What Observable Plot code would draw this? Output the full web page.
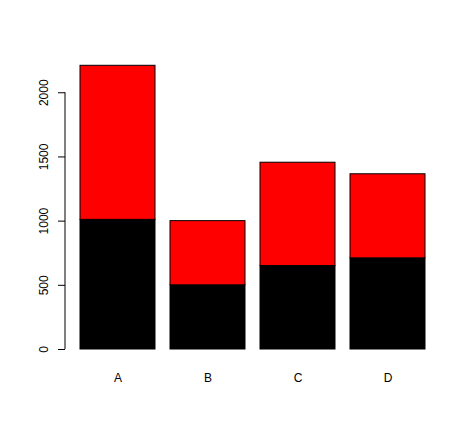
<!DOCTYPE html>
<html>
<head>
<meta charset="utf-8">
<script src="https://cdn.jsdelivr.net/npm/d3@7"></script>
<script src="https://cdn.jsdelivr.net/npm/@observablehq/plot@0.6"></script>
<style>
  html, body { margin: 0; padding: 0; background: #fff; }
  #chart svg { display: block; }
</style>
</head>
<body>
<div id="chart"></div>
<script>
const categories = ["A", "B", "C", "D"];
const seriesNames = ["lower", "upper"];
const lowerValues = [1010, 500, 650, 710];
const upperValues = [1200, 500, 805, 655];
const yTicks = [0, 500, 1000, 1500, 2000];
const seriesColors = ["#000000", "#FF0000"];

const table = [];
categories.forEach((c, i) => {
  table.push({cat: c, series: seriesNames[0], value: lowerValues[i]});
  table.push({cat: c, series: seriesNames[1], value: upperValues[i]});
});

const yAxisLine = (index, scales, values, dims) => {
  const line = d3.create("svg:line")
    .attr("x1", dims.marginLeft)
    .attr("x2", dims.marginLeft)
    .attr("y1", scales.y(d3.min(yTicks)))
    .attr("y2", scales.y(d3.max(yTicks)))
    .attr("stroke", "#000")
    .attr("stroke-width", 1);
  return line.node();
};

const chart = Plot.plot({
  width: 474,
  height: 434,
  marginLeft: 65,
  marginRight: 33,
  marginTop: 54,
  marginBottom: 85,
  style: {fontFamily: "'Liberation Sans', Arial, sans-serif", fontSize: "12px", color: "#000", background: "#fff"},
  x: {domain: categories, paddingInner: 0.165, paddingOuter: 0.1545, align: 0.5, axis: null},
  y: {domain: [0, 2298], axis: null},
  color: {domain: seriesNames, range: seriesColors},
  marks: [
    Plot.barY(table, {x: "cat", y: "value", fill: "series", stroke: "#000", strokeWidth: 1, order: seriesNames}),
    Plot.axisY({ticks: yTicks, tickSize: 7, tickPadding: 11, tickRotate: -90, textAnchor: "middle", lineAnchor: "bottom", fontSize: 12, label: null, tickFormat: d => String(d)}),
    Plot.axisX({tickSize: 0, tickPadding: 28.5, fontSize: 12, lineAnchor: "middle", label: null}),
    yAxisLine
  ]
});
document.getElementById("chart").appendChild(chart);
</script>
</body>
</html>
